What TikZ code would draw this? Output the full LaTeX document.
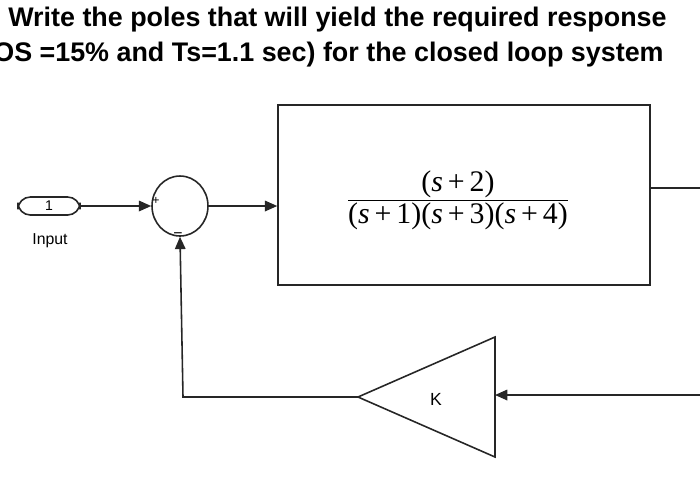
\documentclass[tikz,border=0pt]{standalone}
\usepackage{fontspec}
\setmainfont{Liberation Sans}
\newfontfamily\serifm{Liberation Serif}
\usetikzlibrary{arrows.meta,shapes.geometric}
\begin{document}
\begin{tikzpicture}[x=0.02cm,y=-0.02cm,
  line/.style={draw=black!85,line width=0.9pt},
  arr/.style={line,-{Triangle[length=7pt,width=6pt]}},
  title/.style={anchor=west,inner sep=0,font=\fontsize{15.3}{18}\selectfont\bfseries}]
\useasboundingbox (0,0) rectangle (700,478);
\clip (0,0) rectangle (700,478);
\node[title] (t1) at (8,20) {Write the poles that will yield the required response};
\node[title] (t2) at (-7,55) {OS =15\% and Ts=1.1 sec) for the closed loop system};
\node[line,rounded corners=7pt,inner sep=0,
  minimum width=1.24cm,minimum height=0.36cm,font=\footnotesize] (in) at (49,206) {1};
\node[font=\small] (inl) at (50,241) {Input};
\node[line,ellipse,minimum width=1.12cm,minimum height=1.2cm,inner sep=0] (sum) at (180,206) {};
\node[font=\scriptsize] (p) at (156,201) {+};
\node[font=\small] (m) at (178,236) {−};
\node[line,minimum width=7.44cm,minimum height=3.6cm] (g) at (464,195) {};
\node[inner sep=1pt] (tf) at (458,200)
  {$\displaystyle\frac{\hbox{\serifm\fontsize{17}{19}\selectfont(\textit{s}\,+\,2)}}{\hbox{\serifm\fontsize{17}{19}\selectfont(\textit{s}\,+\,1)(\textit{s}\,+\,3)(\textit{s}\,+\,4)}}$};
\coordinate (ka) at (358,397);
\coordinate (kt) at (495,337);
\coordinate (kb) at (495,457);
\coordinate (ke) at (495,395);
\draw[line] (ka) -- (kt) -- (kb) -- cycle;
\node (kl) at (436,399) {K};
\coordinate (o1) at (700,188);
\coordinate (o2) at (700,395);
\coordinate (c1) at (183,397);
\draw[arr] (in.east) -- (sum.west);
\draw[arr] (sum.east) -- (g.west|-sum.east);
\draw[line] (g.east|-o1) -- (o1);
\draw[arr] (o2) -- (ke);
\draw[arr] (ka) -- (c1) -- (sum.south);
\end{tikzpicture}
\end{document}
